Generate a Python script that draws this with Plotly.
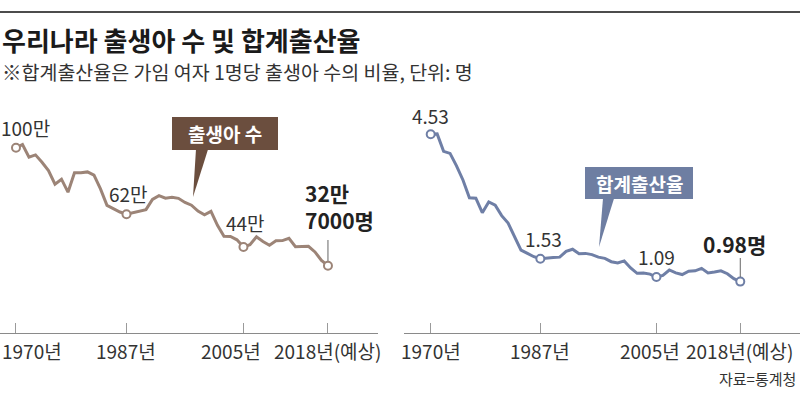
import plotly.graph_objects as go

years = list(range(1970, 2019))
births = [1006.6, 1024.8, 952.8, 965.5, 922.8, 874.9, 796.3, 825.3, 750.7, 862.7,
          862.8, 867.4, 848.3, 769.2, 674.8, 655.5, 636.0, 623.8, 633.1, 639.4,
          649.7, 709.3, 730.7, 715.8, 721.2, 715.0, 691.2, 675.4, 641.6, 620.7,
          640.1, 559.9, 496.9, 495.0, 476.0, 435.0, 448.2, 493.2, 465.9, 444.8,
          470.2, 471.3, 484.6, 436.5, 435.4, 438.4, 406.2, 357.8, 327.0]
tfr = [4.53, 4.54, 4.12, 4.07, 3.77, 3.43, 3.00, 2.99, 2.64, 2.90,
       2.82, 2.57, 2.39, 2.06, 1.74, 1.66, 1.58, 1.53, 1.55, 1.56,
       1.57, 1.71, 1.76, 1.65, 1.66, 1.63, 1.57, 1.54, 1.46, 1.43,
       1.48, 1.31, 1.18, 1.19, 1.16, 1.09, 1.13, 1.26, 1.19, 1.15,
       1.23, 1.24, 1.30, 1.19, 1.21, 1.24, 1.17, 1.05, 0.98]
key_years = [1970, 1987, 2005, 2018]
tick_labels = ["1970년", "1987년", "2005년", "2018년(예상)"]
birth_labels = ["100만", "62만", "44만", "32만<br>7000명"]
tfr_labels = ["4.53", "1.53", "1.09", "0.98명"]

W, H = 800, 395
BROWN_LINE = "#9c8477"
BROWN_BOX = "#6b4e3e"
BLUE_LINE = "#6f7fa6"
BLUE_BOX = "#6e7ea2"
FONT = "Liberation Sans Narrow, Noto Sans CJK KR, sans-serif"
KFONT = "Noto Sans CJK KR, sans-serif"

def px(x):
    return x / W

def py(y):
    return (H - y) / H

key_idx = [years.index(k) for k in key_years]

fig = go.Figure()
fig.add_trace(go.Scatter(x=years, y=births, mode="lines", line=dict(color=BROWN_LINE, width=3),
                         xaxis="x", yaxis="y", hoverinfo="skip"))
fig.add_trace(go.Scatter(x=key_years, y=[births[i] for i in key_idx], mode="markers",
                         marker=dict(size=8, color="white", line=dict(color=BROWN_LINE, width=2)),
                         xaxis="x", yaxis="y"))
fig.add_trace(go.Scatter(x=years, y=tfr, mode="lines", line=dict(color=BLUE_LINE, width=3),
                         xaxis="x2", yaxis="y2", hoverinfo="skip"))
fig.add_trace(go.Scatter(x=key_years, y=[tfr[i] for i in key_idx], mode="markers",
                         marker=dict(size=8, color="white", line=dict(color=BLUE_LINE, width=2)),
                         xaxis="x2", yaxis="y2"))

axis_common = dict(showline=True, linecolor="#8a8a8a", linewidth=1, ticks="inside", ticklen=10,
                   tickcolor="#9a9a9a", tickwidth=1, tickvals=key_years, showticklabels=False,
                   showgrid=False, zeroline=False, fixedrange=True)
ydom = [py(333), 1]

annotations = []
# tick labels
left_tick = [(-16, "left"), (0, "center"), (-12, "center"), (0, "center")]
right_tick = [(0, "center"), (0, "center"), (-6, "center"), (55, "right")]
for k, lab, (s, xa) in zip(key_years, tick_labels, left_tick):
    annotations.append(dict(x=k, y=py(350), xref="x", yref="paper", text=lab, showarrow=False,
                            xshift=s, xanchor=xa, yanchor="middle",
                            font=dict(family=FONT, size=19, color="#333333")))
for k, lab, (s, xa) in zip(key_years, tick_labels, right_tick):
    annotations.append(dict(x=k, y=py(350), xref="x2", yref="paper", text=lab, showarrow=False,
                            xshift=s, xanchor=xa, yanchor="middle",
                            font=dict(family=FONT, size=19, color="#333333")))

# value labels left
lshift = [(10, 20), (2, 21), (2, 24)]
for j, (xs, ys) in enumerate(lshift):
    i = key_idx[j]
    annotations.append(dict(x=years[i], y=births[i], xref="x", yref="y", text=birth_labels[j],
                            showarrow=False, xshift=xs, yshift=ys, xanchor="center", yanchor="middle",
                            font=dict(family=FONT, size=19, color="#333333")))
annotations.append(dict(x=2018, y=births[-1], xref="x", yref="y", text="<b>" + birth_labels[3] + "</b>",
                        showarrow=False, xanchor="left", yanchor="middle", align="left", xshift=-25, yshift=59,
                        font=dict(family=FONT, size=21, color="#222222")))
rshift = [(0, 19), (3, 20), (0, 21)]
for j, (xs, ys) in enumerate(rshift):
    i = key_idx[j]
    annotations.append(dict(x=years[i], y=tfr[i], xref="x2", yref="y2", text=tfr_labels[j],
                            showarrow=False, xshift=xs, yshift=ys, xanchor="center", yanchor="middle",
                            font=dict(family=FONT, size=19, color="#333333")))
annotations.append(dict(x=2018, y=tfr[-1], xref="x2", yref="y2", text="<b>" + tfr_labels[3] + "</b>",
                        showarrow=False, xshift=-6, yshift=38, xanchor="center", yanchor="middle",
                        font=dict(family=FONT, size=21, color="#222222")))

# callout texts
annotations.append(dict(x=px(225), y=py(133.5), xref="paper", yref="paper", text="<b>출생아 수</b>",
                        showarrow=False, xanchor="center", yanchor="middle",
                        font=dict(family=KFONT, size=19, color="white")))
annotations.append(dict(x=px(639), y=py(183), xref="paper", yref="paper", text="<b>합계출산율</b>",
                        showarrow=False, xanchor="center", yanchor="middle",
                        font=dict(family=KFONT, size=19, color="white")))

# title, subtitle, source
annotations.append(dict(x=0, y=py(40), xref="paper", yref="paper", xanchor="left", yanchor="middle",
                        showarrow=False, text="<b>우리나라 출생아 수 및 합계출산율</b>",
                        font=dict(family=KFONT, size=26, color="#1a1a1a")))
annotations.append(dict(x=0, y=py(72), xref="paper", yref="paper", xanchor="left", yanchor="middle",
                        showarrow=False, text="※합계출산율은 가임 여자 1명당 출생아 수의 비율, 단위: 명",
                        font=dict(family=KFONT, size=19.5, color="#333333")))
annotations.append(dict(x=px(798), y=py(378), xref="paper", yref="paper", xanchor="right", yanchor="middle",
                        showarrow=False, text="자료=통계청",
                        font=dict(family=KFONT, size=15, color="#333333")))

def tri(x1, x2, yb, xt, yt):
    return "M {} {} L {} {} L {} {} Z".format(px(x1), py(yb), px(x2), py(yb), px(xt), py(yt))

shapes = [
    dict(type="line", xref="paper", yref="paper", x0=0, x1=1, y0=py(12), y1=py(12),
         line=dict(color="#111111", width=1.5)),
    dict(type="rect", xref="paper", yref="paper", x0=px(172), x1=px(278), y0=py(150), y1=py(117),
         fillcolor=BROWN_BOX, line=dict(width=0)),
    dict(type="path", xref="paper", yref="paper", path=tri(196, 208, 149.5, 193, 197),
         fillcolor=BROWN_BOX, line=dict(width=0)),
    dict(type="rect", xref="paper", yref="paper", x0=px(585), x1=px(693), y0=py(199), y1=py(167),
         fillcolor=BLUE_BOX, line=dict(width=0)),
    dict(type="path", xref="paper", yref="paper", path=tri(603, 614, 198.5, 599, 247),
         fillcolor=BLUE_BOX, line=dict(width=0)),
    dict(type="line", xref="x", yref="paper", x0=2018, x1=2018, y0=py(240), y1=py(261),
         line=dict(color="#666666", width=1)),
    dict(type="line", xref="x2", yref="paper", x0=2018, x1=2018, y0=py(258), y1=py(277),
         line=dict(color="#666666", width=1)),
]

fig.update_layout(
    width=W, height=H, margin=dict(l=0, r=0, t=0, b=0),
    paper_bgcolor="white", plot_bgcolor="rgba(0,0,0,0)", showlegend=False,
    xaxis=dict(domain=[0, px(378)], range=[1967.54, 2025.7], anchor="y", **axis_common),
    yaxis=dict(domain=ydom, range=[-61, 1858], visible=False, fixedrange=True),
    xaxis2=dict(domain=[px(404), 1], range=[1965.86, 2027.26], anchor="y2", **axis_common),
    yaxis2=dict(domain=ydom, range=[-0.258, 7.766], visible=False, fixedrange=True),
    annotations=annotations, shapes=shapes,
)

fig.write_html("out.html", config={"displayModeBar": False},
               post_script="document.body.style.margin='0';document.body.style.overflow='hidden';")
